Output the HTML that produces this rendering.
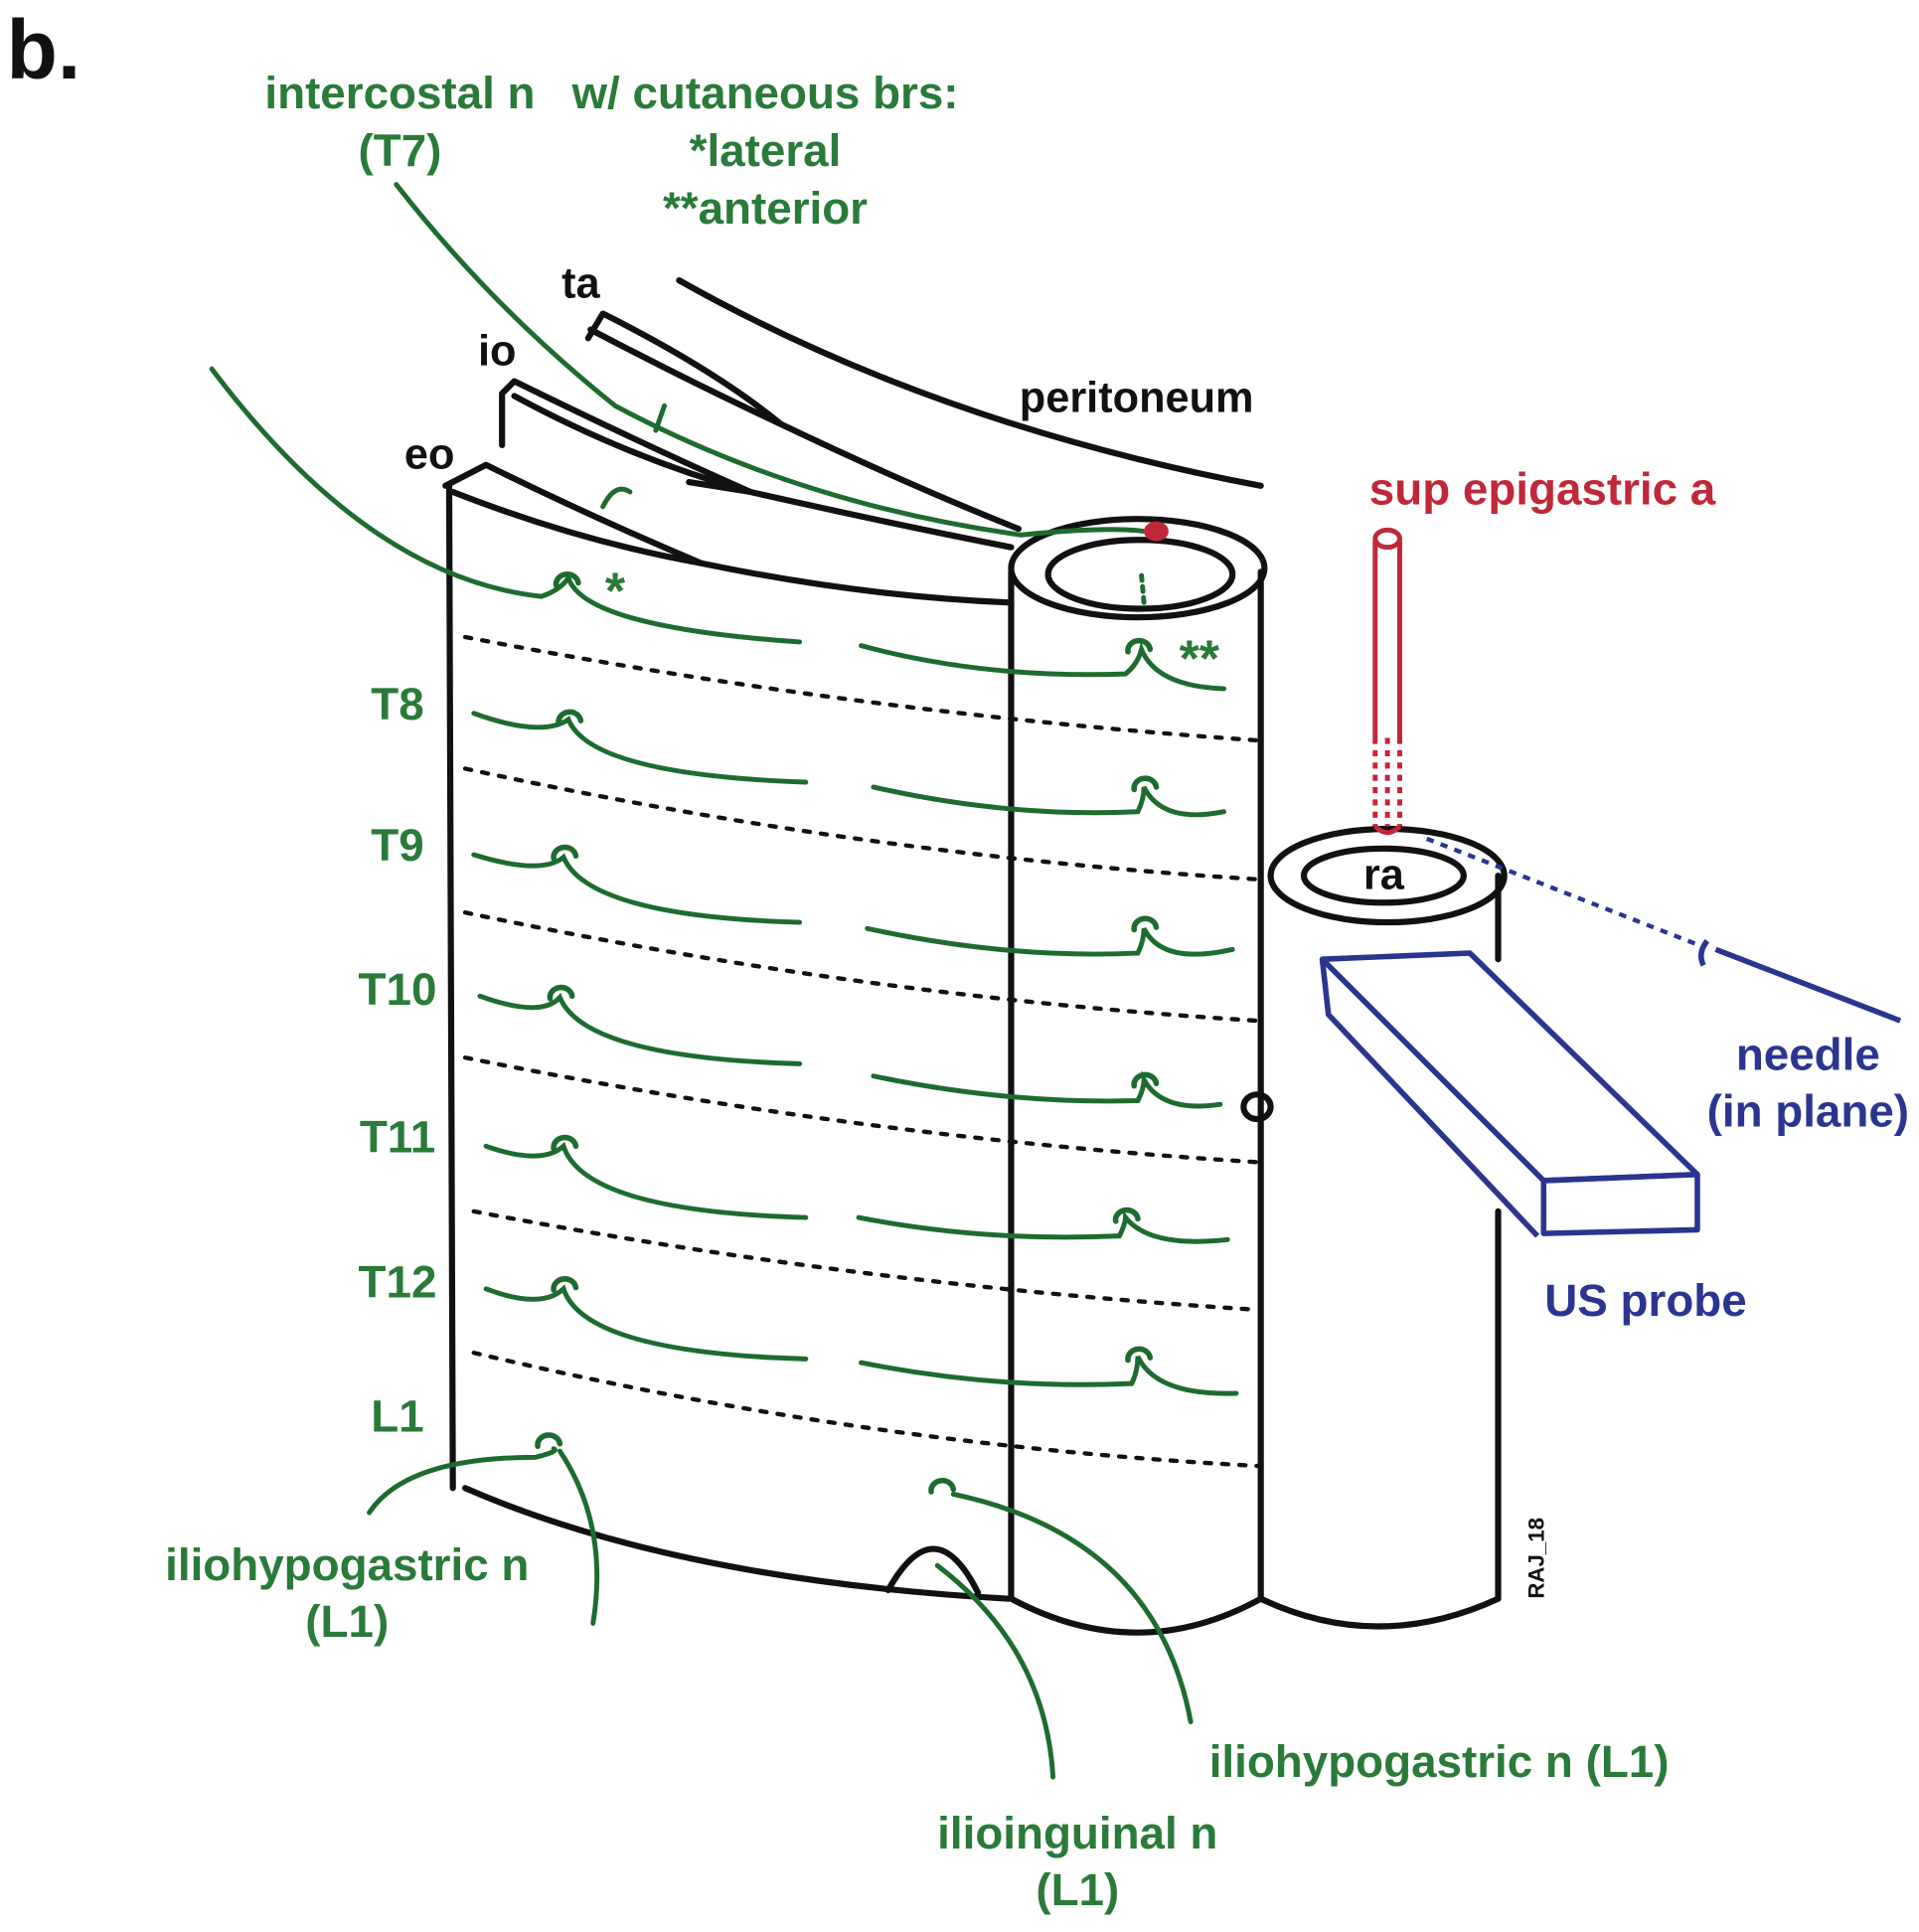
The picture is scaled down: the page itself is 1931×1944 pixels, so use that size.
<!DOCTYPE html>
<html><head><meta charset="utf-8"><style>
html,body{margin:0;padding:0;background:#fff}
svg{display:block}
text{font-family:"Liberation Sans",sans-serif;font-weight:bold}
.g{fill:#2a7a3a}
</style></head><body>
<svg width="1931" height="1944" viewBox="0 0 1560 1571" xmlns="http://www.w3.org/2000/svg">
<rect width="1560" height="1571" fill="#fff"/>
<text x="5" y="64" font-size="68" fill="#111">b.</text>
<g font-size="37" class="g" text-anchor="middle">
<text x="325" y="88">intercostal n</text>
<text x="325" y="135">(T7)</text>
<text x="622" y="88">w/ cutaneous brs:</text>
<text x="622" y="135">*lateral</text>
<text x="622" y="182">**anterior</text>
<text x="323" y="585">T8</text><text x="323" y="700">T9</text><text x="323" y="817">T10</text>
<text x="323" y="937">T11</text><text x="323" y="1055">T12</text><text x="323" y="1164">L1</text>
<text x="282" y="1285">iliohypogastric n</text><text x="282" y="1331">(L1)</text>
<text x="1170" y="1445">iliohypogastric n (L1)</text>
<text x="876" y="1503">ilioinguinal n</text><text x="876" y="1549">(L1)</text>
<text x="500" y="495" font-size="42">*</text>
<text x="975" y="550" font-size="42">**</text>
</g>
<g font-size="35" fill="#111" text-anchor="middle">
<text x="472" y="242">ta</text><text x="404" y="297">io</text><text x="349" y="381">eo</text>
<text x="924" y="335">peritoneum</text><text x="1125" y="723">ra</text>
</g>
<text x="1254" y="410" font-size="37" fill="#c0283a" text-anchor="middle">sup epigastric a</text>
<g font-size="37" fill="#2b3590" text-anchor="middle">
<text x="1470" y="870">needle</text><text x="1470" y="916">(in plane)</text>
<text x="1338" y="1070">US probe</text>
</g>
<text transform="translate(1255,1300) rotate(-90)" font-size="18" fill="#111" font-weight="normal">RAJ_18</text>
<g fill="none" stroke="#111" stroke-width="5" stroke-linecap="round" stroke-linejoin="round">
<path d="M365,395 L368,1210"/>
<path d="M362,395 L395,378 Q480,420 570,458"/>
<path d="M368,400 Q470,440 570,458 Q700,485 822,490"/>
<path d="M408,362 L408,320 L418,310 Q520,360 610,400 M418,322 Q510,372 610,400 L560,392 M610,400 Q720,425 822,445"/>
<path d="M478,275 L490,255 Q580,300 635,345 M480,268 Q560,310 635,345 M635,345 Q740,395 828,430"/>
<path d="M552,228 Q760,345 1025,395"/>
<path d="M822,465 L822,1300 M378,1210 Q550,1285 820,1300"/>
<path d="M722,1293 Q760,1225 795,1295"/>
<ellipse cx="925" cy="462" rx="103" ry="40"/>
<ellipse cx="927" cy="467" rx="75" ry="28"/>
<path d="M1025,465 L1025,1300 M822,1300 Q925,1355 1025,1300"/>
<ellipse cx="1128" cy="712" rx="95" ry="38"/>
<ellipse cx="1125" cy="712" rx="65" ry="22"/>
<path d="M1218,712 L1218,780 M1218,985 L1218,1300 M1025,1300 Q1120,1345 1218,1300"/>
<ellipse cx="1022" cy="900" rx="11" ry="10"/>
</g>
<g fill="none" stroke="#111" stroke-width="3.5" stroke-dasharray="5,9" stroke-linecap="round">
<path d="M378,518 Q700,580 1022,602"/>
<path d="M378,625 Q700,695 1022,715"/>
<path d="M378,742 Q700,810 1022,830"/>
<path d="M378,860 Q700,925 1022,945"/>
<path d="M385,985 Q700,1045 1022,1065"/>
<path d="M385,1100 Q700,1175 1022,1192"/>
</g>
<g fill="none" stroke="#1e6b30" stroke-width="4" stroke-linecap="round">
<path d="M322,150 Q400,250 500,330 Q650,410 830,435 Q900,428 930,432"/>
<path d="M540,330 L533,350"/>
<path d="M172,300 Q300,470 440,485 Q455,480 462,470 Q475,510 650,522"/>
<path d="M490,412 Q500,392 512,400"/>
<path d="M700,525 Q800,552 915,548 Q925,540 928,528 Q940,558 995,560"/>
<path d="M928,468 L930,490" stroke-dasharray="4,5"/>
<path d="M385,580 Q440,600 462,585 Q480,630 655,636"/>
<path d="M710,640 Q820,665 925,660 Q930,650 930,640 Q945,670 995,660"/>
<path d="M385,695 Q440,712 458,697 Q478,745 650,750"/>
<path d="M705,755 Q820,780 925,775 Q930,765 930,755 Q945,785 1002,772"/>
<path d="M390,810 Q440,828 455,811 Q475,860 650,865"/>
<path d="M710,875 Q820,898 925,895 Q930,885 930,878 Q945,905 992,898"/>
<path d="M395,932 Q440,948 458,932 Q475,985 655,990"/>
<path d="M698,990 Q800,1010 910,1005 Q915,995 915,990 Q935,1015 998,1008"/>
<path d="M395,1048 Q440,1065 458,1048 Q475,1100 655,1105"/>
<path d="M700,1108 Q810,1130 920,1125 Q925,1115 925,1103 Q940,1135 1005,1133"/>
<path d="M300,1230 Q330,1185 435,1185 Q455,1180 450,1178 M455,1180 Q495,1240 482,1320"/>
<path d="M775,1215 Q940,1250 968,1400"/>
<path d="M762,1273 Q850,1340 856,1445"/>
<g stroke-width="4.5">
<path d="M452,476 A9,8 0 1 1 470,474"/><path d="M454,588 A9,8 0 1 1 472,586"/>
<path d="M450,698 A9,8 0 1 1 468,696"/><path d="M447,812 A9,8 0 1 1 465,810"/>
<path d="M450,934 A9,8 0 1 1 468,932"/><path d="M450,1049 A9,8 0 1 1 468,1047"/>
<path d="M437,1176 A9,8 0 1 1 455,1174"/><path d="M757,1213 A9,8 0 1 1 775,1211"/>
<path d="M917,530 A9,8 0 1 1 935,528"/><path d="M922,642 A9,8 0 1 1 940,640"/>
<path d="M922,756 A9,8 0 1 1 940,754"/><path d="M922,883 A9,8 0 1 1 940,881"/>
<path d="M907,993 A9,8 0 1 1 925,991"/><path d="M917,1106 A9,8 0 1 1 935,1104"/>
</g>
</g>
<g stroke="#c0283a" fill="none" stroke-width="4">
<ellipse cx="940" cy="432" rx="8" ry="6" fill="#c0283a"/>
<ellipse cx="1128" cy="438" rx="10" ry="7"/>
<path d="M1118,440 L1118,600 M1138,440 L1138,600"/>
<path d="M1118,600 L1118,672 M1138,600 L1138,672 M1128,600 L1128,672" stroke-dasharray="5,5"/>
<path d="M1118,672 Q1128,682 1138,672"/>
</g>
<g stroke="#2b3590" fill="none" stroke-width="4.5" stroke-linejoin="round">
<path d="M1075,780 L1195,775 L1380,955 L1255,960 Z"/>
<path d="M1255,960 L1380,955 L1380,1000 L1255,1003 Z"/>
<path d="M1075,780 L1080,825 L1250,1005"/>
<path d="M1160,682 L1385,770" stroke-dasharray="6,6" stroke-width="3.5"/>
<path d="M1388,765 Q1380,775 1385,785"/>
<path d="M1395,772 L1545,830"/>
</g>
</svg>
</body></html>
